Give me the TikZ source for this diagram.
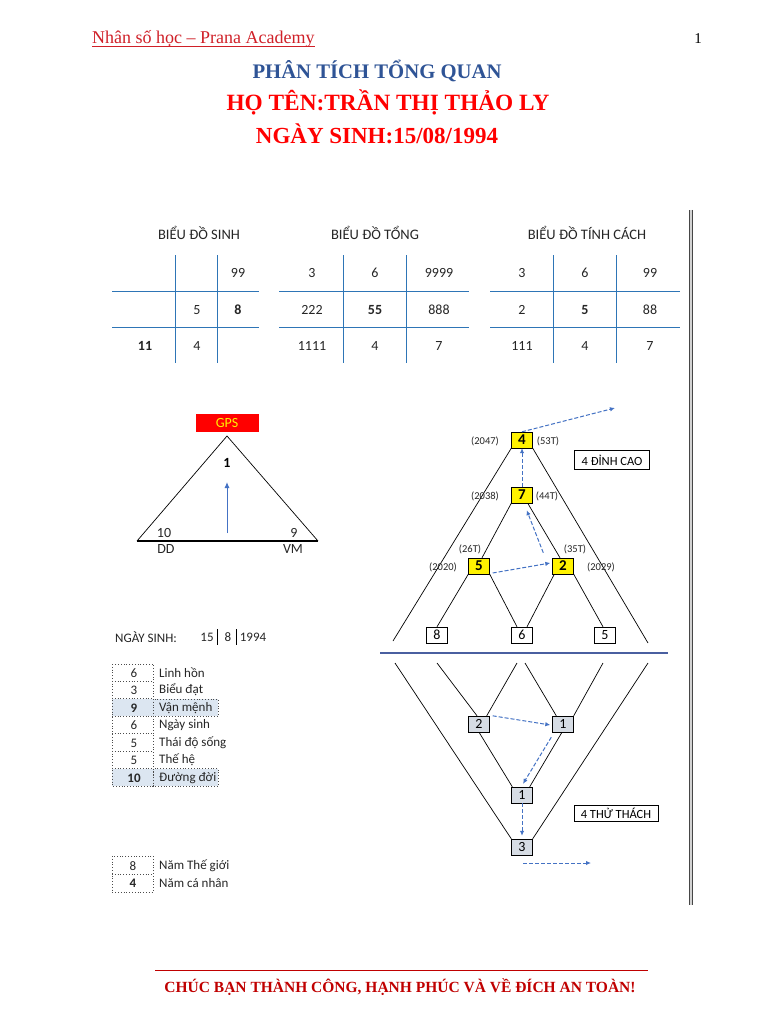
\documentclass[tikz,border=0pt]{standalone}
\usepackage{fontspec}
\setmainfont{Liberation Serif}
\newfontfamily\calfont{Carlito}
\usetikzlibrary{arrows.meta,calc}
\newcommand\fsz[1]{\fontsize{#1}{#1}\selectfont}
\definecolor{hdrred}{HTML}{D02028}
\definecolor{ttlred}{HTML}{FF0000}
\definecolor{ftred}{HTML}{C00000}
\definecolor{ttlblue}{HTML}{2F5496}
\definecolor{chblue}{HTML}{2E75B6}
\definecolor{arblue}{HTML}{4472C4}
\definecolor{divblue}{HTML}{4A5FA0}
\definecolor{hl}{HTML}{DCE6F1}
\definecolor{qgray}{HTML}{D6DCE4}
\begin{document}
\begin{tikzpicture}[x=1pt,y=-1pt,
  ctxt/.style={font=\calfont\fsz{14}, text=black!85, inner sep=0pt},
  cbold/.style={ctxt, font=\calfont\bfseries\fsz{14}},
  ttl/.style={font=\calfont\fsz{14.5}, text=black!85, inner sep=0pt},
  cline/.style={draw=chblue, line width=0.9pt},
  pbox/.style={draw=black, fill=yellow, minimum width=21pt, minimum height=16pt, inner sep=0pt, font=\calfont\bfseries\fsz{15}},
  qbox/.style={draw=black, fill=qgray, minimum width=21pt, minimum height=16pt, inner sep=0pt, font=\calfont\fsz{14}},
  wbox/.style={draw=black, fill=white, minimum width=21pt, minimum height=16pt, inner sep=0pt, font=\calfont\fsz{14}},
  plab/.style={font=\calfont\fsz{10.5}, text=black!85, inner sep=0pt},
  pline/.style={draw=black, line width=0.7pt},
  darr/.style={draw=arblue, line width=1pt, dash pattern=on 4pt off 2pt, -{Latex[length=5pt,width=4.5pt]}},
  lst/.style={font=\calfont\fsz{13}, text=black!85, inner sep=0pt},
  lstb/.style={font=\calfont\bfseries\fsz{13}, text=black!85, inner sep=0pt},
  dotl/.style={draw=black!70, line width=0.8pt, dotted}
]
\useasboundingbox (0,0) rectangle (768,1024);
\fill[white] (0,0) rectangle (768,1024);

% header
\node[anchor=west, inner sep=0pt, text=hdrred, font=\fsz{18}] (hdr) at (92,39) {Nhân số học – Prana Academy};
\draw[hdrred, line width=0.8pt] (hdr.south west) ++(0,-1) coordinate (ul1) -- (ul1 -| hdr.south east);
\node[inner sep=0pt, font=\fsz{15}] (pg) at (698,39) {1};
\node[inner sep=0pt, text=ttlblue, font=\bfseries\fsz{20.7}] (t1) at (377,71) {PHÂN TÍCH TỔNG QUAN};
\node[inner sep=0pt, text=ttlred, font=\bfseries\fsz{23.3}] (t2) at (388,102) {HỌ TÊN:TRẦN THỊ THẢO LY};
\node[inner sep=0pt, text=ttlred, font=\bfseries\fsz{23}] (t3) at (377,134) {NGÀY SINH:15/08/1994};

% right bar
\draw[draw=gray!55!black, double=gray!35, line width=1pt, double distance=1.5pt] (691,210) -- (691,905);

% chart 1
\node[ttl] (c1t) at (199,233) {BIỂU ĐỒ SINH};
\draw[cline] (175,255) -- (175,363);
\draw[cline] (217,255) -- (217,363);
\draw[cline] (112,291) -- (259,291);
\draw[cline] (112,327) -- (259,327);
\node[ctxt] (c1a) at (238,273) {99};
\node[ctxt] (c1b) at (197,310) {5};
\node[cbold] (c1c) at (238,310) {8};
\node[cbold] (c1d) at (145,346) {11};
\node[ctxt] (c1e) at (197,346) {4};

% chart 2
\node[ttl] (c2t) at (375,233) {BIỂU ĐỒ TỔNG};
\draw[cline] (343,255) -- (343,363);
\draw[cline] (406,255) -- (406,363);
\draw[cline] (279,291) -- (469,291);
\draw[cline] (279,327) -- (469,327);
\node[ctxt] (c2a) at (312,273) {3};
\node[ctxt] (c2b) at (375,273) {6};
\node[ctxt] (c2c) at (439,273) {9999};
\node[ctxt] (c2d) at (312,310) {222};
\node[cbold] (c2e) at (375,310) {55};
\node[ctxt] (c2f) at (439,310) {888};
\node[ctxt] (c2g) at (312,346) {1111};
\node[ctxt] (c2h) at (375,346) {4};
\node[ctxt] (c2i) at (439,346) {7};

% chart 3
\node[ttl] (c3t) at (587,233) {BIỂU ĐỒ TÍNH CÁCH};
\draw[cline] (553,255) -- (553,363);
\draw[cline] (616,255) -- (616,363);
\draw[cline] (490,291) -- (680,291);
\draw[cline] (490,327) -- (680,327);
\node[ctxt] (c3a) at (522,273) {3};
\node[ctxt] (c3b) at (585,273) {6};
\node[ctxt] (c3c) at (650,273) {99};
\node[ctxt] (c3d) at (522,310) {2};
\node[cbold] (c3e) at (585,310) {5};
\node[ctxt] (c3f) at (650,310) {88};
\node[ctxt] (c3g) at (522,346) {111};
\node[ctxt] (c3h) at (585,346) {4};
\node[ctxt] (c3i) at (650,346) {7};

% triangle
\node[fill=red, minimum width=63pt, minimum height=18pt, inner sep=0pt, text=yellow, font=\calfont\fsz{14}] (gps) at (227,423) {GPS};
\coordinate (ta) at (227,436);
\coordinate (tl) at (137,541);
\coordinate (tr) at (318,541);
\draw[black, line width=0.7pt] (tl) -- (ta) -- (tr);
\draw[black, line width=1.6pt] (tl) -- (tr);
\node[font=\calfont\bfseries\fsz{14}, inner sep=0pt] (one) at (227,463) {1};
\coordinate (ar1) at (227,533);
\coordinate (ar2) at (227,482);
\draw[arblue, line width=1pt, -{Latex[length=6pt,width=5pt]}] (ar1) -- (ar2);
\node[ctxt] (t10) at (164,533) {10};
\node[ctxt] (t9) at (294,533) {9};
\node[ctxt] (tdd) at (166,549) {DD};
\node[ctxt] (tvm) at (293,549) {VM};

% top pyramid
\coordinate (ptl) at (393,641);
\coordinate (ptr) at (648,643);
\node[pbox] (p4) at (522,440) {4};
\node[pbox] (p7) at (522,495) {7};
\node[pbox] (p5) at (479,566) {5};
\node[pbox] (p2) at (563,566) {2};
\node[wbox] (b8) at (437,635) {8};
\node[wbox] (b6) at (522,635) {6};
\node[wbox] (b5) at (605,635) {5};
\draw[pline] (ptl) -- (p4.south west);
\draw[pline] (p4.south east) -- (ptr);
\draw[pline] (p7.south west) -- ($(p5.north)+(3,0)$);
\draw[pline] ($(p7.south east)+(-5,0)$) -- ($(p2.north)+(-3,0)$);
\draw[pline] (p5.south west) -- (b8.north);
\draw[pline] (p5.south east) -- ($(b6.north)+(-5,0)$);
\draw[pline] ($(p2.south west)+(2,0)$) -- ($(b6.north)+(5,0)$);
\draw[pline] (p2.south east) -- ($(b5.north)+(-2,0)$);
\node[plab] (l2047) at (485,441) {(2047)};
\node[plab] (l53) at (548,441) {(53T)};
\node[plab] (l2038) at (485,496) {(2038)};
\node[plab] (l44) at (547,496) {(44T)};
\node[plab] (l26) at (470,549) {(26T)};
\node[plab] (l35) at (575,549) {(35T)};
\node[plab] (l2020) at (443,567) {(2020)};
\node[plab] (l2029) at (601,567) {(2029)};
\node[draw=black, minimum width=75pt, minimum height=19pt, inner sep=0pt, font=\calfont\fsz{12.5}] (dinh) at (612,460) {4 ĐỈNH CAO};
\coordinate (pend) at (615,408);
\draw[darr] (p4.north) -- (pend);
\draw[darr] (p7.north) -- (p4.south);
\draw[darr] ($(p2.north west)+(-9,-5)$) -- ($(p7.south east)+(-6,7)$);
\draw[darr] ($(p5.east)+(3,7)$) -- ($(p2.west)+(-2,-3)$);

% divider
\coordinate (dv1) at (380,653);
\coordinate (dv2) at (668,653);
\draw[divblue, line width=1.2pt] (dv1) -- (dv2);

% bottom pyramid
\node[qbox] (q2) at (479,724) {2};
\node[qbox] (q1) at (563,724) {1};
\node[qbox] (qm) at (522,795) {1};
\node[qbox] (q3) at (522,847) {3};
\coordinate (u1) at (395,663);
\coordinate (u2) at (437,663);
\coordinate (u3) at (517,663);
\coordinate (u4) at (525,663);
\coordinate (u5) at (603,663);
\coordinate (u6) at (648,663);
\draw[pline] (u1) -- (q3.north west);
\draw[pline] (u6) -- (q3.north east);
\draw[pline] (u2) -- ($(q2.north)+(-2,0)$);
\draw[pline] (u3) -- ($(q2.north east)+(-3,0)$);
\draw[pline] (u4) -- ($(q1.north west)+(4,0)$);
\draw[pline] (u5) -- ($(q1.north east)+(0,0)$);
\draw[pline] (q2.south) -- ($(qm.north west)+(1,0)$);
\draw[pline] ($(q1.south)+(-1,0)$) -- ($(qm.north east)+(-3,0)$);
\draw[darr] ($(q2.north east)+(3,0)$) -- ($(q1.west)+(-2,1)$);
\draw[darr] ($(q1.south west)+(-1,5)$) -- ($(qm.north)+(1,-3)$);
\draw[darr] (qm.south) -- ($(q3.north)+(0,-3)$);
\coordinate (qe1) at (523,863);
\coordinate (qe2) at (591,863);
\draw[darr] (qe1) -- (qe2);
\node[draw=black, minimum width=84pt, minimum height=16pt, inner sep=0pt, font=\calfont\fsz{12.5}] (thach) at (616,813) {4 THỬ THÁCH};

% birth date line
\node[lst, anchor=west] (ns) at (115,637) {NGÀY SINH:};
\node[lst] (d15) at (207,637) {15};
\node[lst] (d8) at (228,637) {8};
\node[lst] (d1994) at (253,637) {1994};
\draw[black, line width=0.8pt] (217,629) -- (217,645);
\draw[black, line width=0.8pt] (236,629) -- (236,645);

% list table
\fill[hl] (112,698.9) rectangle (218,716.3);
\fill[hl] (112,768.6) rectangle (218,786);
\draw[dotl] (112,664) rectangle (153,786);
\foreach \k in {1,...,6} { \draw[dotl] (112,664+\k*17.43) -- (153,664+\k*17.43); }
\draw[dotl] (153,698.9) rectangle (218,716.3);
\draw[dotl] (153,768.6) rectangle (218,786);
\node[lst] (n1) at (134,673) {6};
\node[lst] (n2) at (134,690) {3};
\node[lstb] (n3) at (134,708) {9};
\node[lst] (n4) at (134,725) {6};
\node[lst] (n5) at (134,743) {5};
\node[lst] (n6) at (134,760) {5};
\node[lstb] (n7) at (134,778) {10};
\node[lst, anchor=west] (m1) at (159,673) {Linh hồn};
\node[lst, anchor=west] (m2) at (159,690) {Biểu đạt};
\node[lst, anchor=west] (m3) at (159,708) {Vận mệnh};
\node[lst, anchor=west] (m4) at (159,725) {Ngày sinh};
\node[lst, anchor=west] (m5) at (159,743) {Thái độ sống};
\node[lst, anchor=west] (m6) at (159,760) {Thế hệ};
\node[lst, anchor=west] (m7) at (159,778) {Đường đời};

\draw[dotl] (112,856) rectangle (153,892);
\draw[dotl] (112,874) -- (153,874);
\node[lst] (y1) at (133,866) {8};
\node[lstb] (y2) at (133,883) {4};
\node[lst, anchor=west] (z1) at (159,866) {Năm Thế giới};
\node[lst, anchor=west] (z2) at (159,883) {Năm cá nhân};

% footer
\coordinate (f1) at (155,970);
\coordinate (f2) at (648,970);
\draw[ftred, line width=1pt] (f1) -- (f2);
\node[inner sep=0pt, text=ftred, font=\bfseries\fsz{15.5}] (ft) at (400,987) {CHÚC BẠN THÀNH CÔNG, HẠNH PHÚC VÀ VỀ ĐÍCH AN TOÀN!};
\end{tikzpicture}
\end{document}
